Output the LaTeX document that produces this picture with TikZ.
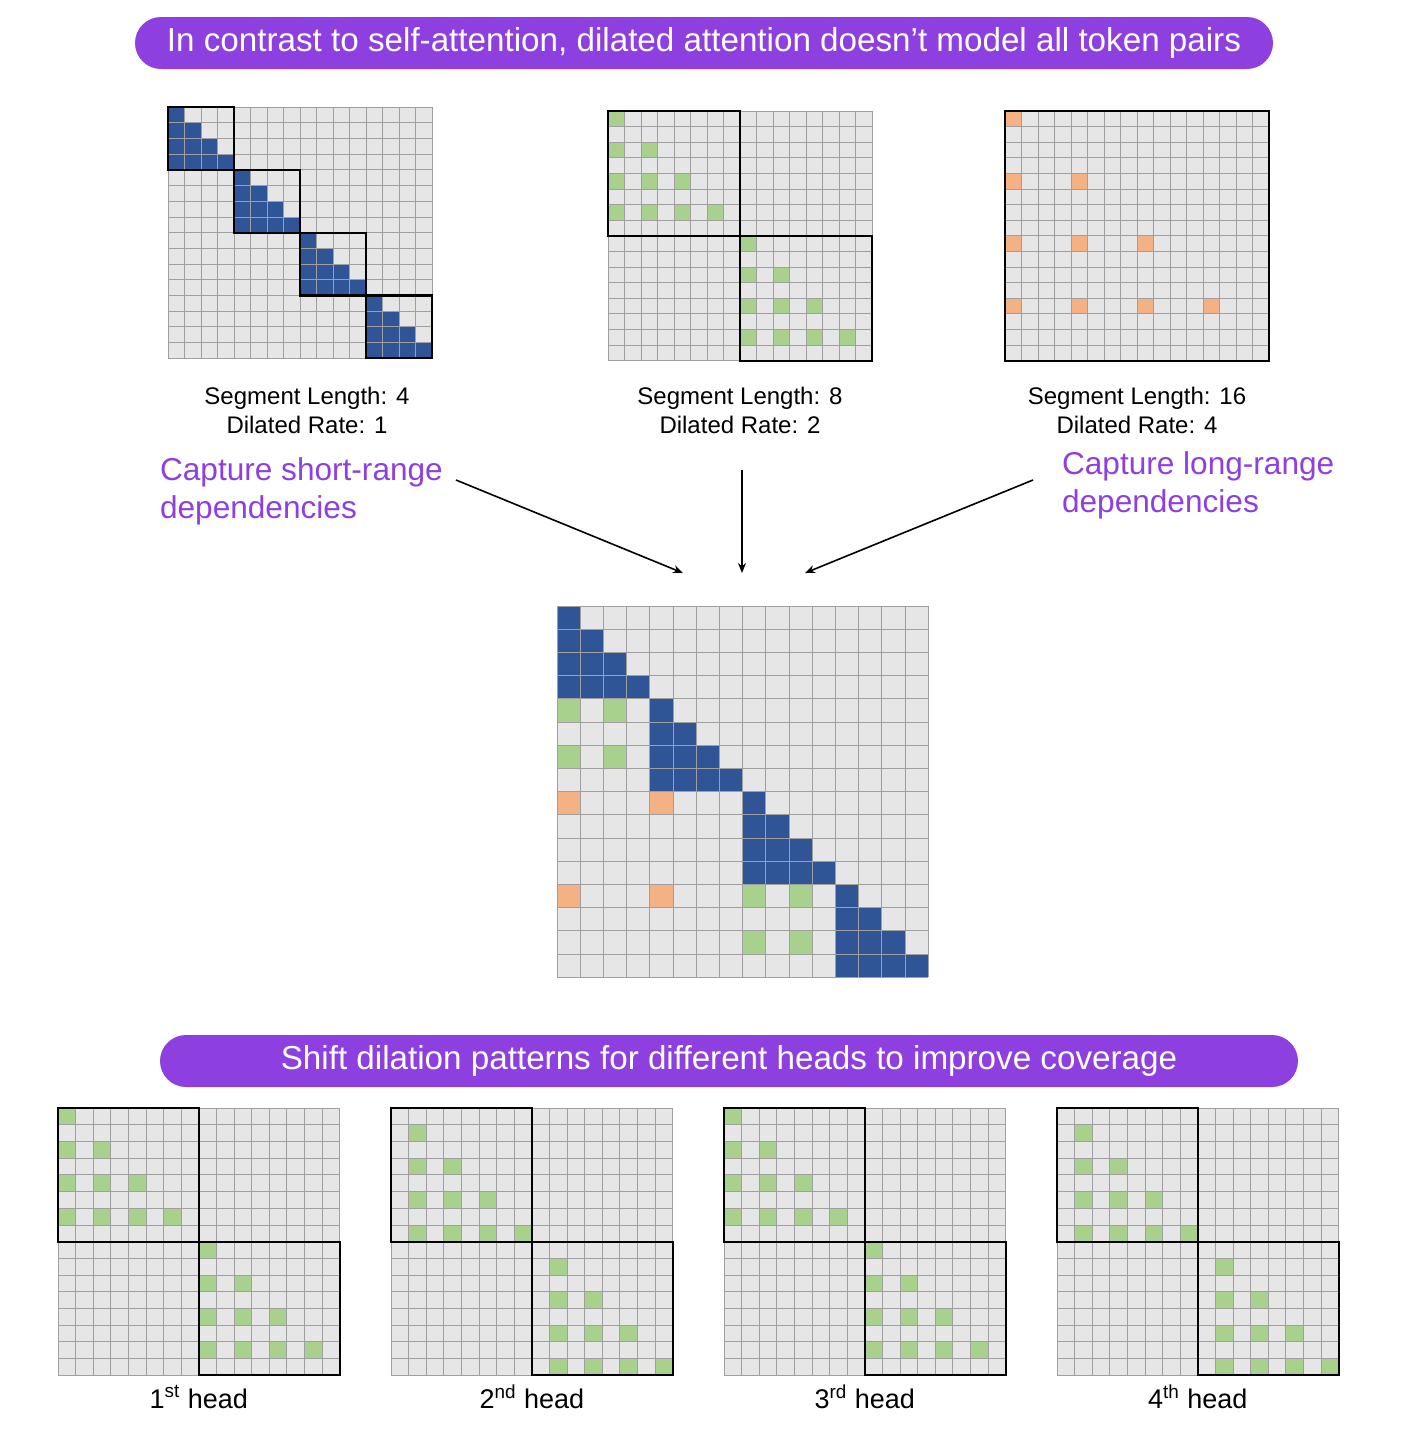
\documentclass[tikz,border=0pt]{standalone}
\usepackage{fontspec}
\setmainfont{Liberation Sans}
\usetikzlibrary{positioning,arrows.meta}
\definecolor{pill}{HTML}{8E3FE0}
\definecolor{cellbg}{HTML}{E6E6E6}
\definecolor{blk}{HTML}{2F5597}
\definecolor{grn}{HTML}{A9D18E}
\definecolor{org}{HTML}{F4B183}

% seg length, dilation, offset, colour
\newcommand\dilated[4]{%
 \pgfmathtruncatemacro\nb{16/#1-1}
 \pgfmathtruncatemacro\nr{#1/#2-1}
 \foreach \bb in {0,...,\nb}{
  \foreach \rr in {0,...,\nr}{
   \foreach \cc in {0,...,\rr}{
    \pgfmathtruncatemacro\cx{\bb*#1+#3+\cc*#2}
    \pgfmathtruncatemacro\cy{\bb*#1+#3+\rr*#2}
    \fill[#4] (\cx,\cy) rectangle +(1,1);}}}}
% seg length
\newcommand\segframes[1]{%
 \pgfmathtruncatemacro\nb{16/#1-1}
 \foreach \bb in {0,...,\nb}
  \draw[segbox] (\bb*#1,\bb*#1) rectangle +(#1,#1);}
\newcommand\gridbg{\fill[cellbg] (0,0) rectangle (16,16);}
\newcommand\gridlines{\foreach \ii in {0,...,16}{
  \draw[gridline] (\ii,0) -- (\ii,16);
  \draw[gridline] (0,\ii) -- (16,\ii);}}

\begin{document}
\begin{tikzpicture}[x=0.5pt,y=-0.5pt,
  gridline/.style={gray!75,line width=0.4pt},
  segbox/.style={black,line width=1.1pt},
  banner/.style={fill=pill,text=white,rounded corners=13pt,minimum width=569pt,minimum height=26pt,font=\fontsize{16.6}{18}\selectfont},
  caption/.style={align=center,font=\fontsize{12}{14.5}\selectfont},
  note/.style={align=left,text=pill,font=\fontsize{15.8}{19}\selectfont},
  headlbl/.style={font=\fontsize{13.5}{15}\selectfont},
  arr/.style={-{Stealth[length=5pt,width=4pt]},line width=0.8pt}]
\useasboundingbox (0,0) rectangle (1402,1432);

\node[banner] (top) at (704,43) {In contrast to self-attention, dilated attention doesn’t model all token pairs};

% top row
\begin{scope}[shift={(168,107)},x=8.25pt,y=-7.85pt]
 \gridbg \dilated{4}{1}{0}{blk} \gridlines \segframes{4}
\end{scope}
\begin{scope}[shift={(608,111)},x=8.25pt,y=-7.8pt]
 \gridbg \dilated{8}{2}{0}{grn} \gridlines \segframes{8}
\end{scope}
\begin{scope}[shift={(1005,111)},x=8.25pt,y=-7.8pt]
 \gridbg \dilated{16}{4}{0}{org} \gridlines \segframes{16}
\end{scope}

\node[caption] (c1) at (307,410) {Segment Length: 4\\Dilated Rate: 1};
\node[caption] (c2) at (740,410) {Segment Length: 8\\Dilated Rate: 2};
\node[caption] (c3) at (1137,410) {Segment Length: 16\\Dilated Rate: 4};

\node[note,anchor=west] (short) at (153,491) {Capture short-range\\dependencies};
\node[note,anchor=west] (long) at (1055,485) {Capture long-range\\dependencies};

\coordinate (s1) at (456,480);
\coordinate (s2) at (742,470);
\coordinate (s3) at (1033,480);
\coordinate (e1) at (683,573);
\coordinate (e2) at (742,573);
\coordinate (e3) at (805,573);
\draw[arr] (s1) -- (e1);
\draw[arr] (s2) -- (e2);
\draw[arr] (s3) -- (e3);

% mixed
\begin{scope}[shift={(557,606)},x=11.6pt,y=-11.6pt]
 \gridbg \dilated{16}{4}{0}{org} \dilated{8}{2}{0}{grn} \dilated{4}{1}{0}{blk} \gridlines
\end{scope}

\node[banner] (bottom) at (729,1061) {Shift dilation patterns for different heads to improve coverage};

% heads
\foreach \k/\off/\lbl in {0/0/1\textsuperscript{st} head,1/1/2\textsuperscript{nd} head,2/0/3\textsuperscript{rd} head,3/1/4\textsuperscript{th} head}{
 \begin{scope}[shift={(58+333*\k,1108)},x=8.8pt,y=-8.35pt]
  \gridbg \dilated{8}{2}{\off}{grn} \gridlines \segframes{8}
  \node[headlbl] (h\k) at (8,17.3) {\lbl};
 \end{scope}}
\end{tikzpicture}
\end{document}
